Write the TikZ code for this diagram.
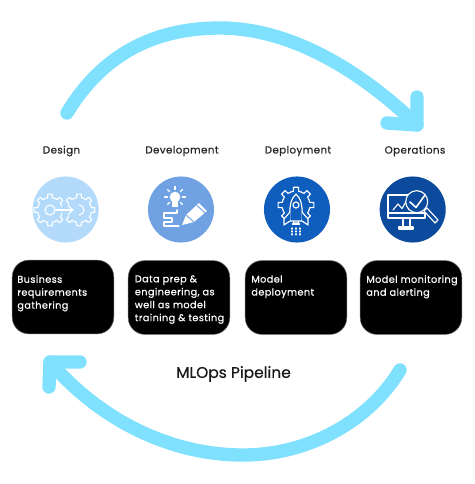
\documentclass[tikz,border=0pt]{standalone}
\usepackage{fontspec}
\setmainfont{Poppins}[FakeBold=0.6]
\newfontfamily\spacedfont[LetterSpace=4,FakeBold=0.6]{Poppins}
\usetikzlibrary{arrows.meta}
\definecolor{arcblue}{HTML}{80E1FF}
\definecolor{iconA}{HTML}{B3DAFB}
\definecolor{iconB}{HTML}{6FA1E3}
\definecolor{iconC}{HTML}{0F5DBC}
\definecolor{iconD}{HTML}{0B4A9C}
\tikzset{
  stage/.style={font=\spacedfont\fontsize{5.85}{7.4}\selectfont, text=black!85, inner sep=0pt},
  card/.style={draw=black!60, line width=.3pt, fill=black, rounded corners=9.5pt, minimum width=57.8pt, minimum height=42pt, inner sep=0pt},
  cardtext/.style={font=\spacedfont\fontsize{5.55}{7.37}\selectfont, text=white, align=left, anchor=north west, inner sep=0pt},
  disc/.style={circle, minimum size=37.6pt, inner sep=0pt},
  flow/.style={draw=arcblue, line width=7.6pt, line cap=round, line join=round},
  iconline/.style={draw=white, line width=.65pt, line cap=round, line join=round},
}
% gear outline: centre, outer radius, inner radius, tooth angles
\newcommand{\gearwheel}[4]{
  \begin{scope}[shift={(#1)}]
  \foreach \a in {#4} {
    \draw[iconline] (\a-22.5:#3) -- (\a-11:#3) -- (\a-8:#2) -- (\a+8:#2) -- (\a+11:#3) -- (\a+22.5:#3);
  }
  \end{scope}
}
\begin{document}
\begin{tikzpicture}[x=0.02cm, y=-0.02cm]
\useasboundingbox (0,0) rectangle (474,484);
% arcs
\coordinate (topstart) at (67,113);
\coordinate (toppeak) at (220,28);
\coordinate (toptip) at (417,125);
\coordinate (botstart) at (400,370);
\coordinate (botlow) at (243,455);
\coordinate (bottip) at (50,362);
\draw[flow] (topstart) .. controls (105,50) and (160,28) .. (toppeak) .. controls (290,28) and (360,70) .. (toptip);
\draw[flow] (417,97) -- (toptip) -- (387,123);
\draw[flow] (botstart) .. controls (370,420) and (310,455) .. (botlow) .. controls (170,455) and (100,420) .. (bottip);
\draw[flow] (49,387) -- (bottip) -- (80,362);
% titles
\node[stage] (design) at (61.5,151) {Design};
\node[stage] (develop) at (182,151) {Development};
\node[stage] (deploy) at (298,151) {Deployment};
\node[stage] (operate) at (415,151) {Operations};
% discs
\node[disc, fill=iconA] (disc1) at (65.7,209.5) {};
\node[disc, fill=iconB] (disc2) at (181,209.5) {};
\node[disc, fill=iconC] (disc3) at (297,209.5) {};
\node[disc, fill=iconD] (disc4) at (412.7,209.5) {};
% cards
\node[card] (card1) at (63,297) {};
\node[card] (card2) at (179,297.5) {};
\node[card] (card3) at (296,297.5) {};
\node[card] (card4) at (411,297.5) {};
\node[cardtext] (text1) at (17,275) {Business\\requirements\\gathering};
\node[cardtext] (text2) at (134.5,275) {Data prep \&\\engineering, as\\well as model\\training \& testing};
\node[cardtext] (text3) at (251,275) {Model\\deployment};
\node[cardtext] (text4) at (366,275) {Model monitoring\\and alerting};
\node[font=\fontsize{8.8}{11}\selectfont, text=black!90, inner sep=0pt] (title) at (233.5,374) {MLOps Pipeline};
% icon 1
\gearwheel{50,210}{16}{12.5}{0,45,...,315}
\gearwheel{79,210}{16}{12.5}{0,45,...,315}
\fill[iconA] (62,204) rectangle (68,216);
\draw[iconline] (50,210) circle (5);
\draw[iconline] (79,205) arc[start angle=-90, end angle=90, radius=5];
\draw[iconline] (56,210) -- (73,210);
\draw[iconline] (68,205.5) -- (73,210) -- (68,214.5);
% icon 2
\draw[iconline, line width=.9pt] (175,197) circle (4.5);
\fill[white] (175,197) circle (4.5);
\fill[white] (172,201) rectangle (178,207);
\foreach \a in {0,45,135,180,225,270,315} {
  \draw[iconline] (175,197) ++(\a:7.5) -- ++(\a:3);
}
\draw[iconline, line width=.8pt] (177,210) -- (177,213) -- (164,213) -- (164,218) -- (172,218) -- (172,222) -- (164,222) -- (164,226) -- (179,226);
\fill[white] (182,225) -- (186,215) -- (199,203) -- (207,211) -- (194,222) -- cycle;
\draw[iconB, line width=.5pt] (186,215) -- (194,222) (197,205.5) -- (205,213);
% icon 3
\gearwheel{296,205}{18}{14}{0,45,...,315}
\draw[iconline, fill=iconC] (296,194) .. controls (291,199) and (289,205) .. (290,221) -- (302,221) .. controls (303,205) and (301,199) .. (296,194) -- cycle;
\draw[iconline, fill=iconC] (290,212) -- (284,219) -- (284,225) -- (290,221);
\draw[iconline, fill=iconC] (302,212) -- (308,219) -- (308,225) -- (302,221);
\draw[iconline] (296,205) circle (3);
\draw[iconline] (292.5,224) -- (299.5,224);
\draw[iconline, densely dotted] (292,228) -- (292,235) (296,228) -- (296,236) (300,228) -- (300,235);
% icon 4
\draw[iconline] (388,195) rectangle (425,218);
\draw[iconline] (388,213) -- (425,213);
\draw[iconline] (403,218) -- (403,227) (410,218) -- (410,227);
\draw[iconline] (399,229) rectangle (413,227);
\draw[iconline] (393,210) -- (398,204) -- (402,208.5) -- (407,200) -- (412,206);
\draw[iconline, fill=iconD] (416.7,201.7) circle (11);
\draw[iconline, line width=.9pt] (410,202) -- (416,207.5) -- (425,195);
\draw[iconline, fill=iconD] (424,211) -- (435,223) -- (438,220) -- (427,208) -- cycle;
\end{tikzpicture}
\end{document}
